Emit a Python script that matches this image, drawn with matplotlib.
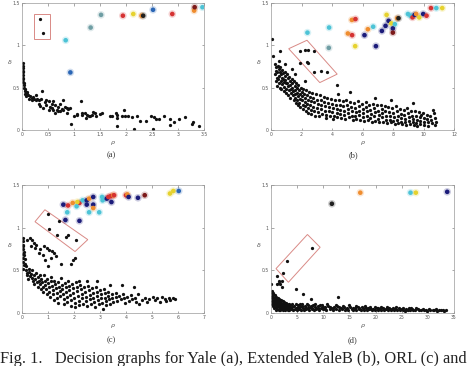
import matplotlib
matplotlib.use('Agg')
import numpy as np
import matplotlib.pyplot as plt
from matplotlib.patches import Polygon

# ---- colour keys for the cluster centres ----
palette = {'k': '#202020', 'n': '#1c1c7a', 'b': '#2b66b5', 'c': '#4cc3d6',
           'g': '#6f9ea4', 'y': '#e6d22e', 'o': '#ef8d2f', 'r': '#d53232',
           'd': '#7c1a1a'}

# ---- (a) Yale ----
a_pts = [(0.01, 0.79), (0.01, 0.75), (0.01, 0.73), (0.01, 0.70), (0.01, 0.68), (0.01, 0.65),
         (0.01, 0.62), (0.02, 0.60), (0.02, 0.57), (0.03, 0.55), (0.03, 0.53), (0.04, 0.50),
         (0.05, 0.48), (0.06, 0.46), (0.08, 0.44), (0.09, 0.42), (0.12, 0.41), (0.15, 0.40),
         (0.19, 0.38), (0.22, 0.39), (0.26, 0.41), (0.29, 0.37), (0.33, 0.35), (0.37, 0.37),
         (0.39, 0.46), (0.44, 0.33), (0.47, 0.36), (0.51, 0.34), (0.54, 0.27), (0.58, 0.31),
         (0.60, 0.34), (0.64, 0.29), (0.67, 0.24), (0.70, 0.27), (0.73, 0.31), (0.76, 0.25),
         (0.79, 0.35), (0.83, 0.27), (0.86, 0.26), (0.89, 0.25), (0.92, 0.26), (0.95, 0.07),
         (1.00, 0.16), (1.06, 0.19), (1.13, 0.34), (1.16, 0.20), (1.21, 0.20), (1.25, 0.18),
         (1.28, 0.16), (1.31, 0.17), (1.37, 0.21), (1.41, 0.20), (1.43, 0.16), (1.50, 0.19),
         (1.54, 0.20), (1.69, 0.16), (1.73, 0.16), (1.80, 0.20), (1.83, 0.05), (1.83, 0.14),
         (1.92, 0.16), (1.96, 0.24), (1.98, 0.17), (2.04, 0.17), (2.12, 0.15), (2.15, 0.01),
         (2.21, 0.17), (2.26, 0.11), (2.39, 0.11), (2.49, 0.16), (2.52, 0.01), (2.53, 0.15),
         (2.58, 0.13), (2.64, 0.13), (2.73, 0.16), (2.84, 0.06), (2.85, 0.13), (2.92, 0.09),
         (3.02, 0.13), (3.13, 0.15), (3.26, 0.07), (3.29, 0.09), (3.40, 0.05),
         (0.35, 0.28), (0.41, 0.26), (0.51, 0.24), (0.57, 0.26), (0.63, 0.20), (0.70, 0.22),
         (0.79, 0.24), (0.86, 0.20), (0.27, 0.35), (0.32, 0.31), (0.19, 0.35), (0.14, 0.37),
         (0.24, 0.37), (0.47, 0.29), (0.60, 0.24), (0.73, 0.22), (1.05, 0.18), (1.15, 0.18),
         (1.24, 0.14), (1.34, 0.18), (1.82, 0.18), (0.05, 0.43), (0.10, 0.45), (0.07, 0.40)]
a_box_pts = [(0.34, 1.31), (0.40, 1.15)]
a_centres = [(0.84, 1.06, 'c'), (0.93, 0.68, 'b'), (1.32, 1.21, 'g'), (1.52, 1.36, 'g'),
             (1.94, 1.35, 'r'), (2.14, 1.37, 'y'), (2.30, 1.35, 'o'), (2.33, 1.35, 'k'),
             (2.52, 1.42, 'b'), (2.89, 1.37, 'r'), (3.31, 1.41, 'o'), (3.32, 1.45, 'd'),
             (3.47, 1.45, 'c')]
a_box = [(0.24, 1.07), (0.54, 1.07), (0.54, 1.37), (0.24, 1.37)]

# ---- (b) Extended YaleB ----
b_pts = [(0.25, 0.78), (0.3, 0.74), (0.35, 0.70), (0.28, 0.66), (0.4, 0.62), (0.33, 0.58), (0.45, 0.76),
         (0.5, 0.72), (0.42, 0.68), (0.55, 0.64), (0.48, 0.60), (0.52, 0.55), (0.38, 0.52), (0.6, 0.50),
         (0.58, 0.74), (0.62, 0.69), (0.66, 0.66), (0.7, 0.62), (0.64, 0.58), (0.72, 0.54), (0.68, 0.48),
         (0.75, 0.71), (0.8, 0.67), (0.78, 0.60), (0.84, 0.57), (0.82, 0.51), (0.88, 0.46), (0.9, 0.69),
         (0.95, 0.64), (0.92, 0.59), (0.98, 0.55), (1.0, 0.49), (0.96, 0.44), (1.05, 0.66), (1.1, 0.61),
         (1.08, 0.56), (1.12, 0.52), (1.15, 0.47), (1.1, 0.41), (1.2, 0.63), (1.25, 0.58), (1.22, 0.53),
         (1.28, 0.49), (1.3, 0.44), (1.26, 0.38), (1.35, 0.60), (1.4, 0.55), (1.38, 0.50), (1.45, 0.46),
         (1.42, 0.41), (1.48, 0.35), (1.5, 0.58), (1.55, 0.52), (1.58, 0.47), (1.6, 0.43), (1.56, 0.38),
         (1.62, 0.32), (1.65, 0.55), (1.7, 0.50), (1.72, 0.44), (1.75, 0.40), (1.7, 0.35), (1.78, 0.29),
         (1.8, 0.53), (1.85, 0.47), (1.88, 0.42), (1.9, 0.37), (1.86, 0.32), (1.92, 0.27), (1.95, 0.50),
         (2.0, 0.45), (2.05, 0.40), (2.02, 0.35), (2.08, 0.30), (2.1, 0.25), (2.12, 0.48), (2.18, 0.43),
         (2.2, 0.38), (2.25, 0.33), (2.22, 0.28), (2.28, 0.22), (2.3, 0.47), (2.35, 0.41), (2.4, 0.36),
         (2.38, 0.31), (2.45, 0.26), (2.42, 0.20), (2.5, 0.45), (2.55, 0.39), (2.6, 0.34), (2.58, 0.29),
         (2.65, 0.24), (2.62, 0.19), (2.7, 0.44), (2.75, 0.38), (2.8, 0.33), (2.78, 0.27), (2.85, 0.22),
         (2.9, 0.17), (2.95, 0.42), (3.0, 0.36), (3.05, 0.31), (3.02, 0.26), (3.1, 0.21), (3.12, 0.16),
         (3.2, 0.41), (3.25, 0.35), (3.3, 0.30), (3.28, 0.25), (3.35, 0.19), (3.45, 0.39), (3.5, 0.33),
         (3.55, 0.28), (3.52, 0.23), (3.6, 0.18), (3.58, 0.14), (3.7, 0.38), (3.75, 0.32), (3.8, 0.27),
         (3.78, 0.22), (3.85, 0.17), (3.95, 0.37), (4.0, 0.31), (4.05, 0.26), (4.02, 0.21), (4.1, 0.16),
         (4.08, 0.13), (4.2, 0.36), (4.25, 0.30), (4.3, 0.25), (4.35, 0.20), (4.32, 0.15), (4.45, 0.35),
         (4.5, 0.29), (4.55, 0.24), (4.52, 0.19), (4.6, 0.14), (4.7, 0.34), (4.75, 0.28), (4.8, 0.23),
         (4.78, 0.18), (4.85, 0.13), (4.95, 0.36), (5.0, 0.30), (5.05, 0.25), (5.02, 0.20), (5.1, 0.15),
         (5.2, 0.33), (5.25, 0.27), (5.3, 0.22), (5.28, 0.17), (5.35, 0.12), (5.45, 0.32), (5.5, 0.26),
         (5.55, 0.21), (5.52, 0.16), (5.6, 0.13), (5.7, 0.34), (5.75, 0.28), (5.8, 0.23), (5.78, 0.18),
         (5.85, 0.12), (5.95, 0.31), (6.0, 0.25), (6.05, 0.20), (6.02, 0.15), (6.1, 0.11), (6.2, 0.33),
         (6.25, 0.27), (6.3, 0.22), (6.28, 0.17), (6.35, 0.12), (6.45, 0.30), (6.5, 0.24), (6.55, 0.19),
         (6.52, 0.14), (6.6, 0.10), (6.7, 0.31), (6.75, 0.26), (6.8, 0.21), (6.78, 0.16), (6.85, 0.11),
         (6.95, 0.29), (7.0, 0.23), (7.05, 0.18), (7.02, 0.13), (7.1, 0.09), (7.2, 0.30), (7.25, 0.25),
         (7.3, 0.20), (7.28, 0.15), (7.35, 0.10), (7.45, 0.28), (7.5, 0.22), (7.55, 0.17), (7.52, 0.12),
         (7.6, 0.08), (7.7, 0.27), (7.75, 0.21), (7.8, 0.16), (7.78, 0.12), (7.85, 0.09), (7.95, 0.26),
         (8.0, 0.20), (8.05, 0.15), (8.02, 0.11), (8.1, 0.07), (8.2, 0.28), (8.25, 0.22), (8.3, 0.17),
         (8.28, 0.12), (8.35, 0.08), (8.45, 0.25), (8.5, 0.19), (8.55, 0.14), (8.52, 0.10), (8.6, 0.07),
         (8.7, 0.24), (8.75, 0.18), (8.8, 0.13), (8.78, 0.09), (8.85, 0.06), (8.95, 0.26), (9.0, 0.20),
         (9.05, 0.15), (9.02, 0.11), (9.1, 0.07), (9.2, 0.23), (9.25, 0.17), (9.3, 0.13), (9.28, 0.09),
         (9.35, 0.06), (9.45, 0.22), (9.5, 0.16), (9.55, 0.12), (9.52, 0.08), (9.6, 0.05), (9.7, 0.21),
         (9.75, 0.15), (9.8, 0.11), (9.78, 0.07), (9.85, 0.18), (9.95, 0.20), (10.0, 0.14), (10.05, 0.10),
         (10.02, 0.06), (10.2, 0.18), (10.25, 0.13), (10.3, 0.09), (10.28, 0.05), (10.45, 0.17),
         (10.5, 0.12), (10.55, 0.08), (10.7, 0.20), (10.75, 0.14), (10.8, 0.10), (10.78, 0.06),
         (0.04, 1.07), (0.13, 0.87), (0.61, 0.93), (0.5, 0.82), (0.9, 0.78), (1.4, 0.72), (1.6, 0.66),
         (2.2, 0.58), (4.3, 0.53), (4.4, 0.42), (5.2, 0.45), (6.8, 0.38), (7.9, 0.35), (9.3, 0.32),
         (10.6, 0.24)]
b_box_pts = [(1.93, 0.93), (2.26, 0.95), (2.43, 0.95), (2.85, 0.93), (1.88, 0.79), (2.36, 0.80),
             (2.45, 0.79), (2.80, 0.68), (3.28, 0.70), (3.68, 0.68)]
b_centres = [(2.39, 1.15, 'c'), (3.81, 1.21, 'c'), (3.79, 0.97, 'g'), (5.30, 1.30, 'o'),
             (5.54, 1.31, 'r'), (5.04, 1.14, 'o'), (5.32, 1.12, 'r'), (5.52, 0.99, 'y'),
             (6.13, 1.12, 'n'), (6.35, 1.19, 'o'), (6.70, 1.22, 'c'), (6.88, 0.99, 'n'),
             (7.27, 1.17, 'n'), (7.51, 1.23, 'n'), (7.58, 1.36, 'y'), (7.71, 1.29, 'n'),
             (7.88, 1.26, 'y'), (7.99, 1.20, 'n'), (7.99, 1.15, 'd'), (8.12, 1.25, 'c'),
             (8.28, 1.32, 'o'), (8.36, 1.32, 'k'), (8.98, 1.37, 'c'), (9.15, 1.35, 'c'),
             (9.28, 1.33, 'r'), (9.42, 1.36, 'n'), (9.52, 1.37, 'o'), (9.72, 1.33, 'y'),
             (9.98, 1.37, 'n'), (10.20, 1.35, 'r'), (10.49, 1.44, 'r'), (10.84, 1.44, 'c'),
             (11.23, 1.44, 'y')]
b_box = [(1.16, 0.96), (2.36, 1.06), (4.34, 0.66), (3.20, 0.56)]

# ---- (c) ORL ----
c_pts = [(0.02, 0.88), (0.03, 0.84), (0.05, 0.80), (0.02, 0.78), (0.04, 0.75), (0.06, 0.72),
         (0.03, 0.69), (0.08, 0.68), (0.05, 0.65), (0.10, 0.63), (0.04, 0.60), (0.12, 0.58),
         (0.07, 0.56), (0.15, 0.55), (0.02, 0.52), (0.2, 0.86), (0.3, 0.88), (0.4, 0.85),
         (0.45, 0.82), (0.35, 0.78), (0.55, 0.8), (0.5, 0.76), (0.7, 0.75), (0.85, 0.78),
         (0.95, 0.76), (1.05, 0.74), (1.15, 0.73), (1.25, 0.70), (1.3, 0.67), (0.65, 0.70),
         (0.8, 0.68), (0.9, 0.62), (1.1, 0.64), (1.95, 0.62), (2.05, 0.64), (1.9, 0.58),
         (1.5, 0.58), (1.0, 0.55), (0.15, 0.50), (0.2, 0.47), (0.18, 0.44), (0.25, 0.52),
         (0.28, 0.48), (0.3, 0.43), (0.22, 0.40), (0.35, 0.46), (0.38, 0.41), (0.4, 0.50),
         (0.42, 0.37), (0.45, 0.44), (0.5, 0.40), (0.48, 0.34), (0.55, 0.47), (0.58, 0.36),
         (0.6, 0.42), (0.62, 0.31), (0.65, 0.38), (0.68, 0.45), (0.7, 0.34), (0.72, 0.28),
         (0.75, 0.40), (0.78, 0.36), (0.8, 0.31), (0.82, 0.25), (0.85, 0.44), (0.88, 0.38),
         (0.9, 0.33), (0.92, 0.28), (0.95, 0.22), (0.98, 0.40), (1.0, 0.35), (1.02, 0.30),
         (1.05, 0.25), (1.08, 0.19), (1.1, 0.42), (1.12, 0.37), (1.15, 0.32), (1.18, 0.27),
         (1.2, 0.22), (1.22, 0.15), (1.25, 0.38), (1.28, 0.34), (1.3, 0.29), (1.33, 0.24),
         (1.36, 0.18), (1.38, 0.12), (1.4, 0.36), (1.43, 0.31), (1.45, 0.26), (1.48, 0.20),
         (1.5, 0.41), (1.52, 0.33), (1.55, 0.28), (1.58, 0.22), (1.6, 0.16), (1.62, 0.10),
         (1.65, 0.35), (1.68, 0.30), (1.7, 0.25), (1.72, 0.19), (1.75, 0.13), (1.78, 0.38),
         (1.8, 0.32), (1.82, 0.27), (1.85, 0.21), (1.88, 0.15), (1.9, 0.08), (1.92, 0.34),
         (1.95, 0.29), (1.98, 0.23), (2.0, 0.18), (2.02, 0.12), (2.05, 0.07), (2.08, 0.36),
         (2.1, 0.31), (2.12, 0.26), (2.15, 0.20), (2.18, 0.14), (2.2, 0.09), (2.25, 0.33),
         (2.28, 0.28), (2.3, 0.22), (2.32, 0.17), (2.35, 0.11), (2.4, 0.30), (2.42, 0.25),
         (2.45, 0.19), (2.48, 0.14), (2.5, 0.08), (2.55, 0.32), (2.58, 0.27), (2.6, 0.21),
         (2.62, 0.16), (2.65, 0.10), (2.7, 0.29), (2.72, 0.24), (2.75, 0.18), (2.78, 0.13),
         (2.8, 0.07), (2.85, 0.30), (2.88, 0.25), (2.9, 0.20), (2.92, 0.15), (2.95, 0.10),
         (3.0, 0.27), (3.02, 0.22), (3.05, 0.17), (3.08, 0.12), (3.1, 0.05), (3.15, 0.28),
         (3.18, 0.23), (3.2, 0.18), (3.22, 0.14), (3.25, 0.09), (3.3, 0.25), (3.32, 0.20),
         (3.35, 0.16), (3.38, 0.11), (3.45, 0.22), (3.48, 0.18), (3.5, 0.13), (3.6, 0.24),
         (3.62, 0.19), (3.65, 0.14), (3.75, 0.20), (3.8, 0.16), (3.9, 0.22), (3.92, 0.17),
         (3.95, 0.12), (4.05, 0.19), (4.1, 0.14), (4.2, 0.21), (4.25, 0.16), (4.35, 0.18),
         (4.4, 0.13), (4.45, 0.22), (4.5, 0.10), (4.6, 0.15), (4.75, 0.18), (4.8, 0.13),
         (4.9, 0.16), (5.05, 0.19), (5.1, 0.15), (5.2, 0.17), (5.3, 0.13), (5.4, 0.19),
         (5.5, 0.16), (5.55, 0.14), (5.65, 0.18), (5.7, 0.15), (5.8, 0.17), (5.9, 0.16),
         (2.2, 0.38), (2.5, 0.38), (2.87, 0.38), (3.38, 0.33), (3.85, 0.33), (4.3, 0.30)]
c_box_pts = [(1.01, 1.16), (1.05, 0.99), (1.44, 1.08), (1.36, 0.91), (1.69, 0.89),
             (1.76, 0.91), (2.06, 0.86)]
c_centres = [(1.59, 1.27, 'n'), (1.77, 1.26, 'r'), (1.95, 1.29, 'o'), (2.21, 1.29, 'r'),
             (2.13, 1.30, 'y'), (2.33, 1.32, 'c'), (2.49, 1.32, 'n'), (2.58, 1.34, 'o'),
             (2.74, 1.36, 'n'), (2.49, 1.27, 'n'), (2.74, 1.27, 'n'), (2.10, 1.25, 'c'),
             (2.74, 1.23, 'o'), (1.74, 1.18, 'c'), (1.67, 1.09, 'n'), (2.21, 1.08, 'n'),
             (2.58, 1.18, 'c'), (2.97, 1.18, 'c'), (3.08, 1.36, 'c'), (3.10, 1.32, 'c'),
             (3.26, 1.34, 'n'), (3.32, 1.36, 'r'), (3.41, 1.37, 'r'), (3.51, 1.38, 'o'),
             (3.44, 1.30, 'n'), (3.54, 1.38, 'r'), (4.00, 1.38, 'r'), (4.05, 1.39, 'o'),
             (4.10, 1.36, 'n'), (4.46, 1.35, 'n'), (4.72, 1.38, 'd'), (5.69, 1.40, 'y'),
             (5.82, 1.43, 'y'), (6.03, 1.43, 'b')]
c_box = [(0.50, 1.07), (0.88, 1.21), (2.53, 0.86), (2.04, 0.72)]

# ---- (d) fourth data set ----
d_pts = [(0.1, 0.26), (0.15, 0.23), (0.2, 0.20), (0.12, 0.17), (0.25, 0.14), (0.18, 0.11), (0.3, 0.08),
         (0.4, 0.24), (0.45, 0.19), (0.5, 0.15), (0.55, 0.12), (0.6, 0.09), (0.65, 0.06), (0.7, 0.21),
         (0.75, 0.17), (0.8, 0.13), (0.85, 0.10), (0.9, 0.07), (0.95, 0.04), (1.0, 0.19), (1.05, 0.15),
         (1.1, 0.12), (1.15, 0.08), (1.2, 0.05), (1.3, 0.18), (1.35, 0.14), (1.4, 0.11), (1.45, 0.07),
         (1.5, 0.04), (1.6, 0.16), (1.65, 0.13), (1.7, 0.09), (1.75, 0.06), (1.8, 0.03), (1.9, 0.15),
         (1.95, 0.12), (2.0, 0.08), (2.05, 0.05), (2.2, 0.14), (2.25, 0.10), (2.3, 0.07), (2.35, 0.04),
         (2.5, 0.13), (2.55, 0.09), (2.6, 0.06), (2.7, 0.03), (2.8, 0.12), (2.85, 0.08), (2.9, 0.05),
         (3.1, 0.11), (3.15, 0.07), (3.2, 0.04), (3.4, 0.10), (3.45, 0.06), (3.5, 0.03), (3.7, 0.09),
         (3.8, 0.05), (4.0, 0.11), (4.1, 0.07), (4.2, 0.04), (4.4, 0.08), (4.5, 0.05), (4.7, 0.10),
         (4.8, 0.06), (5.0, 0.03), (5.2, 0.09), (5.3, 0.05), (5.6, 0.07), (5.7, 0.04), (5.9, 0.10),
         (6.1, 0.06), (6.3, 0.03), (6.5, 0.08), (6.7, 0.05), (6.9, 0.11), (7.1, 0.06), (7.3, 0.04),
         (7.6, 0.08), (7.8, 0.05), (8.0, 0.09), (8.2, 0.04), (8.5, 0.07), (8.7, 0.05), (9.0, 0.08),
         (9.2, 0.03), (9.5, 0.06), (9.8, 0.09), (10.0, 0.05), (10.3, 0.07), (10.6, 0.04), (10.9, 0.08),
         (11.2, 0.05), (11.5, 0.06), (11.8, 0.03), (12.1, 0.07), (12.4, 0.05), (12.7, 0.08), (13.0, 0.04),
         (13.3, 0.06), (13.6, 0.05), (13.9, 0.07), (14.2, 0.03), (14.5, 0.06), (14.8, 0.04), (15.1, 0.07),
         (15.4, 0.05), (15.7, 0.03), (16.0, 0.06), (16.3, 0.04), (16.6, 0.07), (16.9, 0.05), (17.2, 0.03),
         (17.5, 0.06), (17.8, 0.04), (18.1, 0.06), (18.4, 0.03), (18.7, 0.05), (19.0, 0.07), (19.3, 0.04),
         (19.6, 0.05), (19.9, 0.03), (20.2, 0.06), (20.5, 0.04), (20.8, 0.05), (21.1, 0.03), (21.4, 0.06),
         (21.7, 0.04), (22.0, 0.05), (22.3, 0.03), (22.6, 0.06), (22.9, 0.04), (23.2, 0.05), (23.5, 0.03),
         (23.8, 0.05), (24.1, 0.04), (24.4, 0.06), (24.7, 0.03), (25.0, 0.05), (25.3, 0.04), (25.6, 0.02),
         (25.9, 0.05), (26.2, 0.03), (26.5, 0.04), (26.8, 0.06), (27.1, 0.03), (27.6, 0.04), (28.2, 0.05),
         (28.7, 0.03), (29.3, 0.04), (29.9, 0.02), (30.5, 0.04), (31.2, 0.03), (31.8, 0.02), (32.5, 0.04),
         (33.1, 0.02), (5.1, 0.07), (5.5, 0.11), (6.0, 0.08), (6.6, 0.06), (7.0, 0.09), (7.4, 0.07),
         (7.9, 0.06), (8.4, 0.10), (8.9, 0.06), (9.4, 0.09), (9.9, 0.07), (10.4, 0.05), (10.8, 0.10),
         (11.3, 0.07), (11.9, 0.06), (12.5, 0.09), (13.1, 0.07), (13.7, 0.08), (14.4, 0.05), (15.0, 0.09),
         (15.6, 0.06), (16.2, 0.08), (16.8, 0.06), (17.4, 0.07), (18.0, 0.08), (18.6, 0.06), (19.2, 0.05),
         (19.8, 0.07), (20.4, 0.06), (21.0, 0.07), (21.6, 0.05), (22.2, 0.07), (22.8, 0.05), (23.4, 0.06),
         (24.0, 0.07), (24.6, 0.05), (25.2, 0.06), (25.8, 0.04), (26.4, 0.06), (27.0, 0.05), (27.8, 0.06),
         (28.4, 0.04), (29.0, 0.05), (29.6, 0.03), (30.2, 0.05), (30.9, 0.04), (31.5, 0.05), (32.2, 0.03),
         (32.9, 0.04), (33.5, 0.03), (0.3, 0.22), (0.6, 0.18), (0.9, 0.16), (1.2, 0.14), (1.5, 0.13),
         (1.8, 0.12), (2.1, 0.11), (2.4, 0.10), (2.7, 0.09), (3.0, 0.08), (3.3, 0.08), (3.6, 0.07),
         (0.35, 0.13), (0.65, 0.11), (0.95, 0.09), (1.25, 0.09), (1.55, 0.08), (1.85, 0.07), (2.15, 0.06),
         (2.45, 0.06), (0.0, 0.34), (1.08, 0.43), (1.53, 0.38), (2.04, 0.38), (1.08, 0.34), (1.72, 0.34),
         (2.17, 0.31), (1.6, 0.35), (4.7, 0.28), (6.2, 0.22), (7.6, 0.16), (12.9, 0.19)]
d_box_pts = [(7.8, 0.76), (3.13, 0.61), (2.37, 0.47)]
d_centres = [(11.64, 1.28, 'k'), (17.08, 1.41, 'o'), (26.68, 1.41, 'c'), (27.70, 1.41, 'y'),
             (33.70, 1.42, 'n')]
d_box = [(0.96, 0.52), (6.97, 0.92), (9.4, 0.77), (3.33, 0.36)]

a_xticks = [0, 0.5, 1, 1.5, 2, 2.5, 3, 3.5]
b_xticks = [0, 2, 4, 6, 8, 10, 12]
c_xticks = [0, 1, 2, 3, 4, 5, 6, 7]
d_xticks = [0, 5, 10, 15, 20, 25, 30, 35]
yticks = [0, 0.5, 1, 1.5]
panel_labels = ['(a)', '(b)', '(c)', '(d)']
caption = 'Fig. 1.   Decision graphs for Yale (a), Extended YaleB (b), ORL (c) and'


def draw_panel(ax, pts, box_pts, centres, box, xticks):
    pts = np.array(pts)
    ax.scatter(pts[:, 0], pts[:, 1], s=5.5, c='#111111', linewidths=0, zorder=2)
    bp = np.array(box_pts)
    ax.scatter(bp[:, 0], bp[:, 1], s=5.5, c='#111111', linewidths=0, zorder=2)
    cx = [p[0] for p in centres]
    cy = [p[1] for p in centres]
    cc = [palette[p[2]] for p in centres]
    # soft halo around cluster centres, the scan is blurry
    ax.scatter(cx, cy, s=30, c=cc, alpha=0.22, linewidths=0, zorder=3)
    ax.scatter(cx, cy, s=11, c=cc, linewidths=0, zorder=4)
    ax.add_patch(Polygon(box, closed=True, fill=False, ec='#d98a86', lw=0.7, zorder=1))
    ax.set_xlim(xticks[0], xticks[-1])
    ax.set_ylim(0, 1.5)
    ax.set_xticks(xticks)
    ax.set_xticklabels([('%g' % t) for t in xticks])
    ax.set_yticks(yticks)
    ax.set_yticklabels([('%g' % t) for t in yticks])
    ax.tick_params(direction='in', top=True, right=True, length=1.8, width=0.4,
                   labelsize=3.3, pad=1.5, colors='#666666', labelcolor='#555555')
    for sp in ax.spines.values():
        sp.set_color('#9a9a9a')
        sp.set_linewidth(0.5)
    ax.set_xlabel(r'$\rho$', fontsize=4.5, labelpad=1.5, color='#555555')
    ax.set_ylabel(r'$\delta$', fontsize=4.5, labelpad=2, color='#555555', rotation=0)


fig = plt.figure(figsize=(4.74, 3.66), dpi=100)
W, H = 474.0, 366.0
rects = [(22, 3, 204, 130), (271, 3, 454, 130), (22, 185, 204, 313), (271, 185, 454, 313)]
axs = [fig.add_axes([l / W, 1 - b / H, (r - l) / W, (b - t) / H]) for (l, t, r, b) in rects]

draw_panel(axs[0], a_pts, a_box_pts, a_centres, a_box, a_xticks)
draw_panel(axs[1], b_pts, b_box_pts, b_centres, b_box, b_xticks)
draw_panel(axs[2], c_pts, c_box_pts, c_centres, c_box, c_xticks)
draw_panel(axs[3], d_pts, d_box_pts, d_centres, d_box, d_xticks)

label_pos = [(111, 155), (353, 155), (111, 340), (353, 340)]
for lab, (x, y) in zip(panel_labels, label_pos):
    fig.text(x / W, 1 - y / H, lab, ha='center', va='center', fontsize=6,
             family='Liberation Serif', color='#333333')

# caption runs off the bottom of the crop, as in the scanned page
fig.text(0.0, 1 - 351 / H, caption, ha='left', va='top', fontsize=11.8,
         family='Liberation Serif', color='#222222')

fig.savefig('out.png', dpi=100)
